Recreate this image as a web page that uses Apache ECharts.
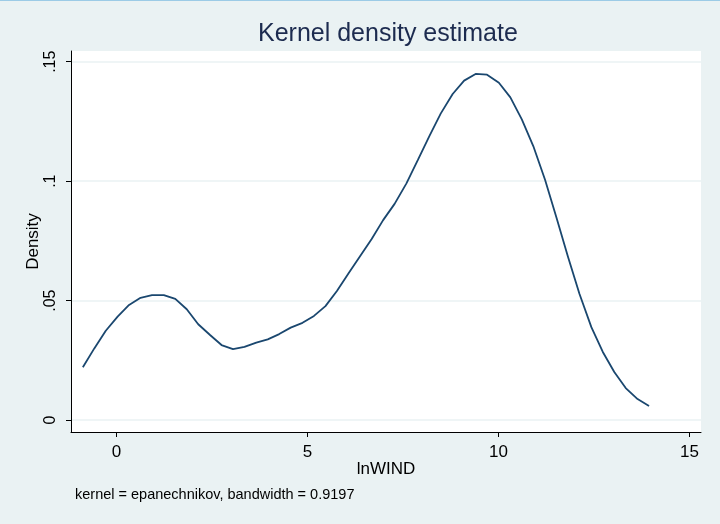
<!DOCTYPE html>
<html>
<head>
<meta charset="utf-8">
<script src="https://cdn.jsdelivr.net/npm/echarts@6/dist/echarts.min.js"></script>
<style>
  html, body { margin: 0; padding: 0; background: #eaf2f3; }
  #chart { width: 720px; height: 524px; box-sizing: border-box; border-top: 1px solid #9ccbe6; }
</style>
</head>
<body>
<div id="chart"></div>
<script>
// evaluation points of the density (lnWIND)
var xPoints = [-0.88, -0.58, -0.28, 0.03, 0.33, 0.63, 0.93, 1.24, 1.54, 1.84,
  2.14, 2.45, 2.75, 3.05, 3.35, 3.66, 3.96, 4.26, 4.56, 4.87,
  5.17, 5.47, 5.77, 6.08, 6.38, 6.68, 6.98, 7.28, 7.59, 7.89,
  8.19, 8.49, 8.80, 9.10, 9.40, 9.70, 10.01, 10.31, 10.61, 10.91,
  11.22, 11.52, 11.82, 12.12, 12.43, 12.73, 13.03, 13.33, 13.64, 13.94];
// estimated density
var density = [0.0221, 0.0300, 0.0374, 0.0433, 0.0482, 0.0512, 0.0523, 0.0523, 0.0507, 0.0464,
  0.0401, 0.0356, 0.0314, 0.0297, 0.0306, 0.0324, 0.0338, 0.0360, 0.0387, 0.0407,
  0.0436, 0.0477, 0.0540, 0.0616, 0.0687, 0.0758, 0.0837, 0.0905, 0.0991, 0.1089,
  0.1189, 0.1284, 0.1365, 0.1421, 0.1449, 0.1446, 0.1412, 0.1351, 0.1259, 0.1147,
  0.1005, 0.0846, 0.0683, 0.0528, 0.0389, 0.0285, 0.0201, 0.0134, 0.0088, 0.0059];
var xTicks = [0, 5, 10, 15];
var yTicks = [0, 0.05, 0.1, 0.15];
var yTickLabels = ['0', '.05', '.1', '.15'];

var fontFam = '"Liberation Sans", Arial, sans-serif';
var chart = echarts.init(document.getElementById('chart'));

var seriesData = [];
for (var i = 0; i < xPoints.length; i++) {
  seriesData.push([xPoints[i], density[i]]);
}

chart.setOption({
  backgroundColor: '#eaf2f3',
  animation: false,
  title: {
    text: 'Kernel density estimate',
    left: 253,
    top: 16,
    textStyle: { fontFamily: fontFam, fontSize: 25, fontWeight: 'normal', color: '#1c2b4f' }
  },
  grid: { left: 71, right: 19, top: 50, bottom: 92, show: true, backgroundColor: '#ffffff', borderWidth: 0 },
  xAxis: {
    type: 'value',
    min: -1.19,
    max: 15.3,
    name: 'lnWIND',
    nameLocation: 'middle',
    nameGap: 29,
    nameMoveOverlap: false,
    nameTextStyle: { fontFamily: fontFam, fontSize: 17, color: '#000' },
    axisLine: { show: true, onZero: false, lineStyle: { color: '#000', width: 1 } },
    axisTick: { show: true, length: 5, lineStyle: { color: '#000' }, customValues: xTicks },
    axisLabel: {
      fontFamily: fontFam, fontSize: 17, color: '#000', margin: 12,
      customValues: xTicks,
      formatter: function (v) { return String(v); }
    },
    splitLine: { show: false }
  },
  yAxis: {
    type: 'value',
    min: -0.005,
    max: 0.1545,
    name: 'Density',
    nameLocation: 'middle',
    nameGap: 29,
    nameRotate: 90,
    nameMoveOverlap: false,
    nameTextStyle: { fontFamily: fontFam, fontSize: 17, color: '#000' },
    axisLine: { show: true, onZero: false, lineStyle: { color: '#000', width: 1 } },
    axisTick: { show: true, length: 5, lineStyle: { color: '#000' }, customValues: yTicks },
    axisLabel: {
      fontFamily: fontFam, fontSize: 16, color: '#000', rotate: 90, margin: 12,
      customValues: yTicks,
      formatter: function (v) {
        var k = yTicks.indexOf(Math.round(v * 1000) / 1000);
        return k >= 0 ? yTickLabels[k] : '';
      }
    },
    splitLine: { show: true, lineStyle: { color: '#eaf2f3', width: 1.5 } }
  },
  graphic: [{
    type: 'text',
    left: 75,
    top: 486,
    style: { text: 'kernel = epanechnikov, bandwidth = 0.9197', fontFamily: fontFam, fontSize: 14.5, fill: '#000' }
  }],
  series: [{
    type: 'line',
    data: seriesData,
    showSymbol: false,
    smooth: false,
    lineStyle: { color: '#1a476f', width: 1.8 },
    itemStyle: { color: '#1a476f' }
  }]
});
</script>
</body>
</html>
